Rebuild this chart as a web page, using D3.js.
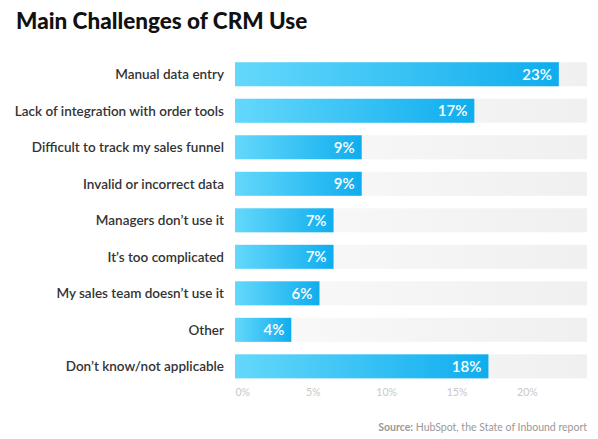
<!DOCTYPE html>
<html>
<head>
<meta charset="utf-8">
<script src="https://cdn.jsdelivr.net/npm/d3@7"></script>
<style>
  body { margin: 0; background: #fff; }
  svg text { font-family: "Source Sans Pro", Lato, "Open Sans", sans-serif; }
  .tick text { fill: #c8c8c8; font-size: 10.5px; }
</style>
</head>
<body>
<div id="chart"></div>
<script>
var categories = [
  "Manual data entry",
  "Lack of integration with order tools",
  "Difficult to track my sales funnel",
  "Invalid or incorrect data",
  "Managers don\u2019t use it",
  "It\u2019s too complicated",
  "My sales team doesn\u2019t use it",
  "Other",
  "Don\u2019t know/not applicable"
];
var values = [23, 17, 9, 9, 7, 7, 6, 4, 18];
var tickValues = [0, 5, 10, 15, 20];
var maxValue = 25;

var width = 598, height = 439;
var margin = {top: 56, right: 11, bottom: 54, left: 235};

var svg = d3.select("#chart")
            .append("svg")
            .attr("width", width)
            .attr("height", height);

//gradients for the bars and the grey tracks
var defs = svg.append("defs");
var grad = defs.append("linearGradient").attr("id", "barGrad");
grad.append("stop").attr("offset", "0%").attr("stop-color", "#64d8fb");
grad.append("stop").attr("offset", "100%").attr("stop-color", "#0fadee");
var track = defs.append("linearGradient").attr("id", "trackGrad");
track.append("stop").attr("offset", "0%").attr("stop-color", "#fafafa");
track.append("stop").attr("offset", "100%").attr("stop-color", "#f0f0f0");

//title
svg.append("text")
   .attr("x", 16)
   .attr("y", 29)
   .style("font-size", "22.5px")
   .style("font-weight", "900")
   .style("fill", "#111")
   .text("Main Challenges of CRM Use");

//scales
var xScale = d3.scaleLinear()
               .domain([0, maxValue])
               .range([margin.left, width - margin.right]);

var yScale = d3.scaleBand()
               .domain(categories)
               .range([margin.top, height - margin.bottom - 0.4])
               .paddingInner(0.342)
               .paddingOuter(0.171);

//grey tracks
svg.selectAll(".track")
   .data(categories)
   .enter()
   .append("rect")
   .attr("class", "track")
   .attr("x", xScale(0))
   .attr("y", function(d) { return yScale(d); })
   .attr("width", xScale(maxValue) - xScale(0))
   .attr("height", yScale.bandwidth())
   .attr("fill", "url(#trackGrad)");

//bars
svg.selectAll(".bar")
   .data(values)
   .enter()
   .append("rect")
   .attr("class", "bar")
   .attr("x", xScale(0))
   .attr("y", function(d, i) { return yScale(categories[i]); })
   .attr("width", function(d) { return xScale(d) - xScale(0); })
   .attr("height", yScale.bandwidth())
   .attr("fill", "url(#barGrad)");

//value labels
svg.selectAll(".value")
   .data(values)
   .enter()
   .append("text")
   .attr("class", "value")
   .attr("x", function(d) { return xScale(d) - 7; })
   .attr("y", function(d, i) { return yScale(categories[i]) + yScale.bandwidth() / 2; })
   .attr("dy", "0.36em")
   .style("text-anchor", "end")
   .style("font-size", "15px")
   .style("font-weight", "600")
   .style("fill", "#fff")
   .text(function(d) { return d + "%"; });

//category labels
svg.selectAll(".cat")
   .data(categories)
   .enter()
   .append("text")
   .attr("class", "cat")
   .attr("x", xScale(0) - 11)
   .attr("y", function(d) { return yScale(d) + yScale.bandwidth() / 2; })
   .attr("dy", "0.36em")
   .style("text-anchor", "end")
   .style("font-size", "13.5px")
   .style("font-weight", "600")
   .style("fill", "#333")
   .text(function(d) { return d; });

//x axis
var xAxis = d3.axisBottom(xScale)
              .tickValues(tickValues)
              .tickSize(0)
              .tickFormat(function(d) { return d + "%"; });

svg.append("g")
   .attr("class", "x-axis")
   .attr("transform", "translate(0," + 389 + ")")
   .call(xAxis)
   .call(function(g) { g.select(".domain").remove(); })
   .selectAll("text")
   .style("text-anchor", "start")
   .attr("dy", "0.71em")
   .attr("y", 0);

//source note
var src = svg.append("text")
   .attr("x", 587)
   .attr("y", 431)
   .style("text-anchor", "end")
   .style("font-size", "10.5px")
   .style("fill", "#999");
src.append("tspan").style("font-weight", "700").text("Source:");
src.append("tspan").text(" HubSpot, the State of Inbound report");
</script>
</body>
</html>
